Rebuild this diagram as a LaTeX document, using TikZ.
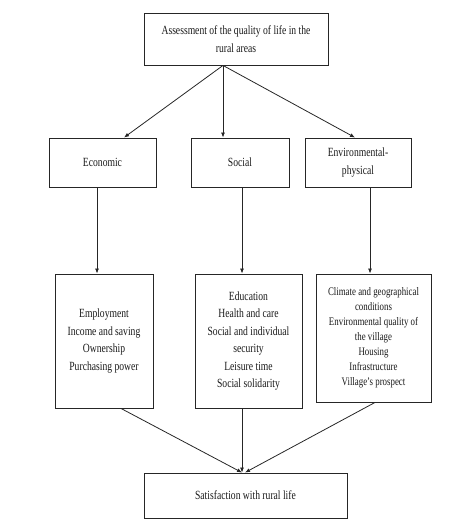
\documentclass[tikz,border=0pt]{standalone}
\usepackage{fontspec}
\setmainfont{Liberation Serif}[FakeStretch=0.77]
\usetikzlibrary{arrows.meta}
\begin{document}
\begin{tikzpicture}[x=1pt,y=-1pt,
  box/.style={draw=black!85,line width=0.9pt,rectangle,inner sep=0pt,align=center,text=black!90,
    font=\fontsize{12.5}{17.5}\selectfont},
  small/.style={font=\fontsize{11.5}{15}\selectfont},
  conn/.style={draw=black!85,line width=0.8pt,-{Latex[length=5pt,width=4pt]}}]
\useasboundingbox (0,0) rectangle (474,526);
\node[box,minimum width=184pt,minimum height=52pt] (top) at (236,39) {Assessment of the quality of life in the\\rural areas};
\node[box,minimum width=107pt,minimum height=49pt] (econ) at (102.5,162.5) {Economic};
\node[box,minimum width=98pt,minimum height=49pt] (soc) at (240,162.5) {Social};
\node[box,minimum width=106pt,minimum height=49pt] (env) at (358,162.5) {Environmental-\\physical};
\node[box,minimum width=98pt,minimum height=134pt] (lecon) at (104,341) {Employment\\Income and saving\\Ownership\\Purchasing power};
\node[box,minimum width=107pt,minimum height=134pt] (lsoc) at (248.5,341) {Education\\Health and care\\Social and individual\\security\\Leisure time\\Social solidarity};
\node[box,small,minimum width=115pt,minimum height=128pt] (lenv) at (373.5,338) {Climate and geographical\\conditions\\Environmental quality of\\the village\\Housing\\Infrastructure\\Village’s prospect};
\node[box,minimum width=203pt,minimum height=45pt] (bot) at (245.5,495.5) {Satisfaction with rural life};
\coordinate (tsrc) at ([xshift=-13pt]top.south);
\draw[conn] (tsrc) -- ([xshift=21.5pt]econ.north);
\draw[conn] (tsrc) -- ([xshift=-17pt]soc.north);
\draw[conn] (tsrc) -- ([xshift=-3pt]env.north);
\draw[conn] ([xshift=-5.5pt]econ.south) -- ([xshift=-7pt]lecon.north);
\draw[conn] ([xshift=2pt]soc.south) -- ([xshift=-6.5pt]lsoc.north);
\draw[conn] ([xshift=12pt]env.south) -- ([xshift=-3.5pt]lenv.north);
\draw[conn] ([xshift=17pt]lecon.south) -- ([xshift=-3.5pt]bot.north);
\draw[conn] ([xshift=-6.5pt]lsoc.south) -- ([xshift=-3.5pt]bot.north);
\draw[conn] ([xshift=1.5pt]lenv.south) -- ([xshift=-0.5pt]bot.north);
\end{tikzpicture}
\end{document}
